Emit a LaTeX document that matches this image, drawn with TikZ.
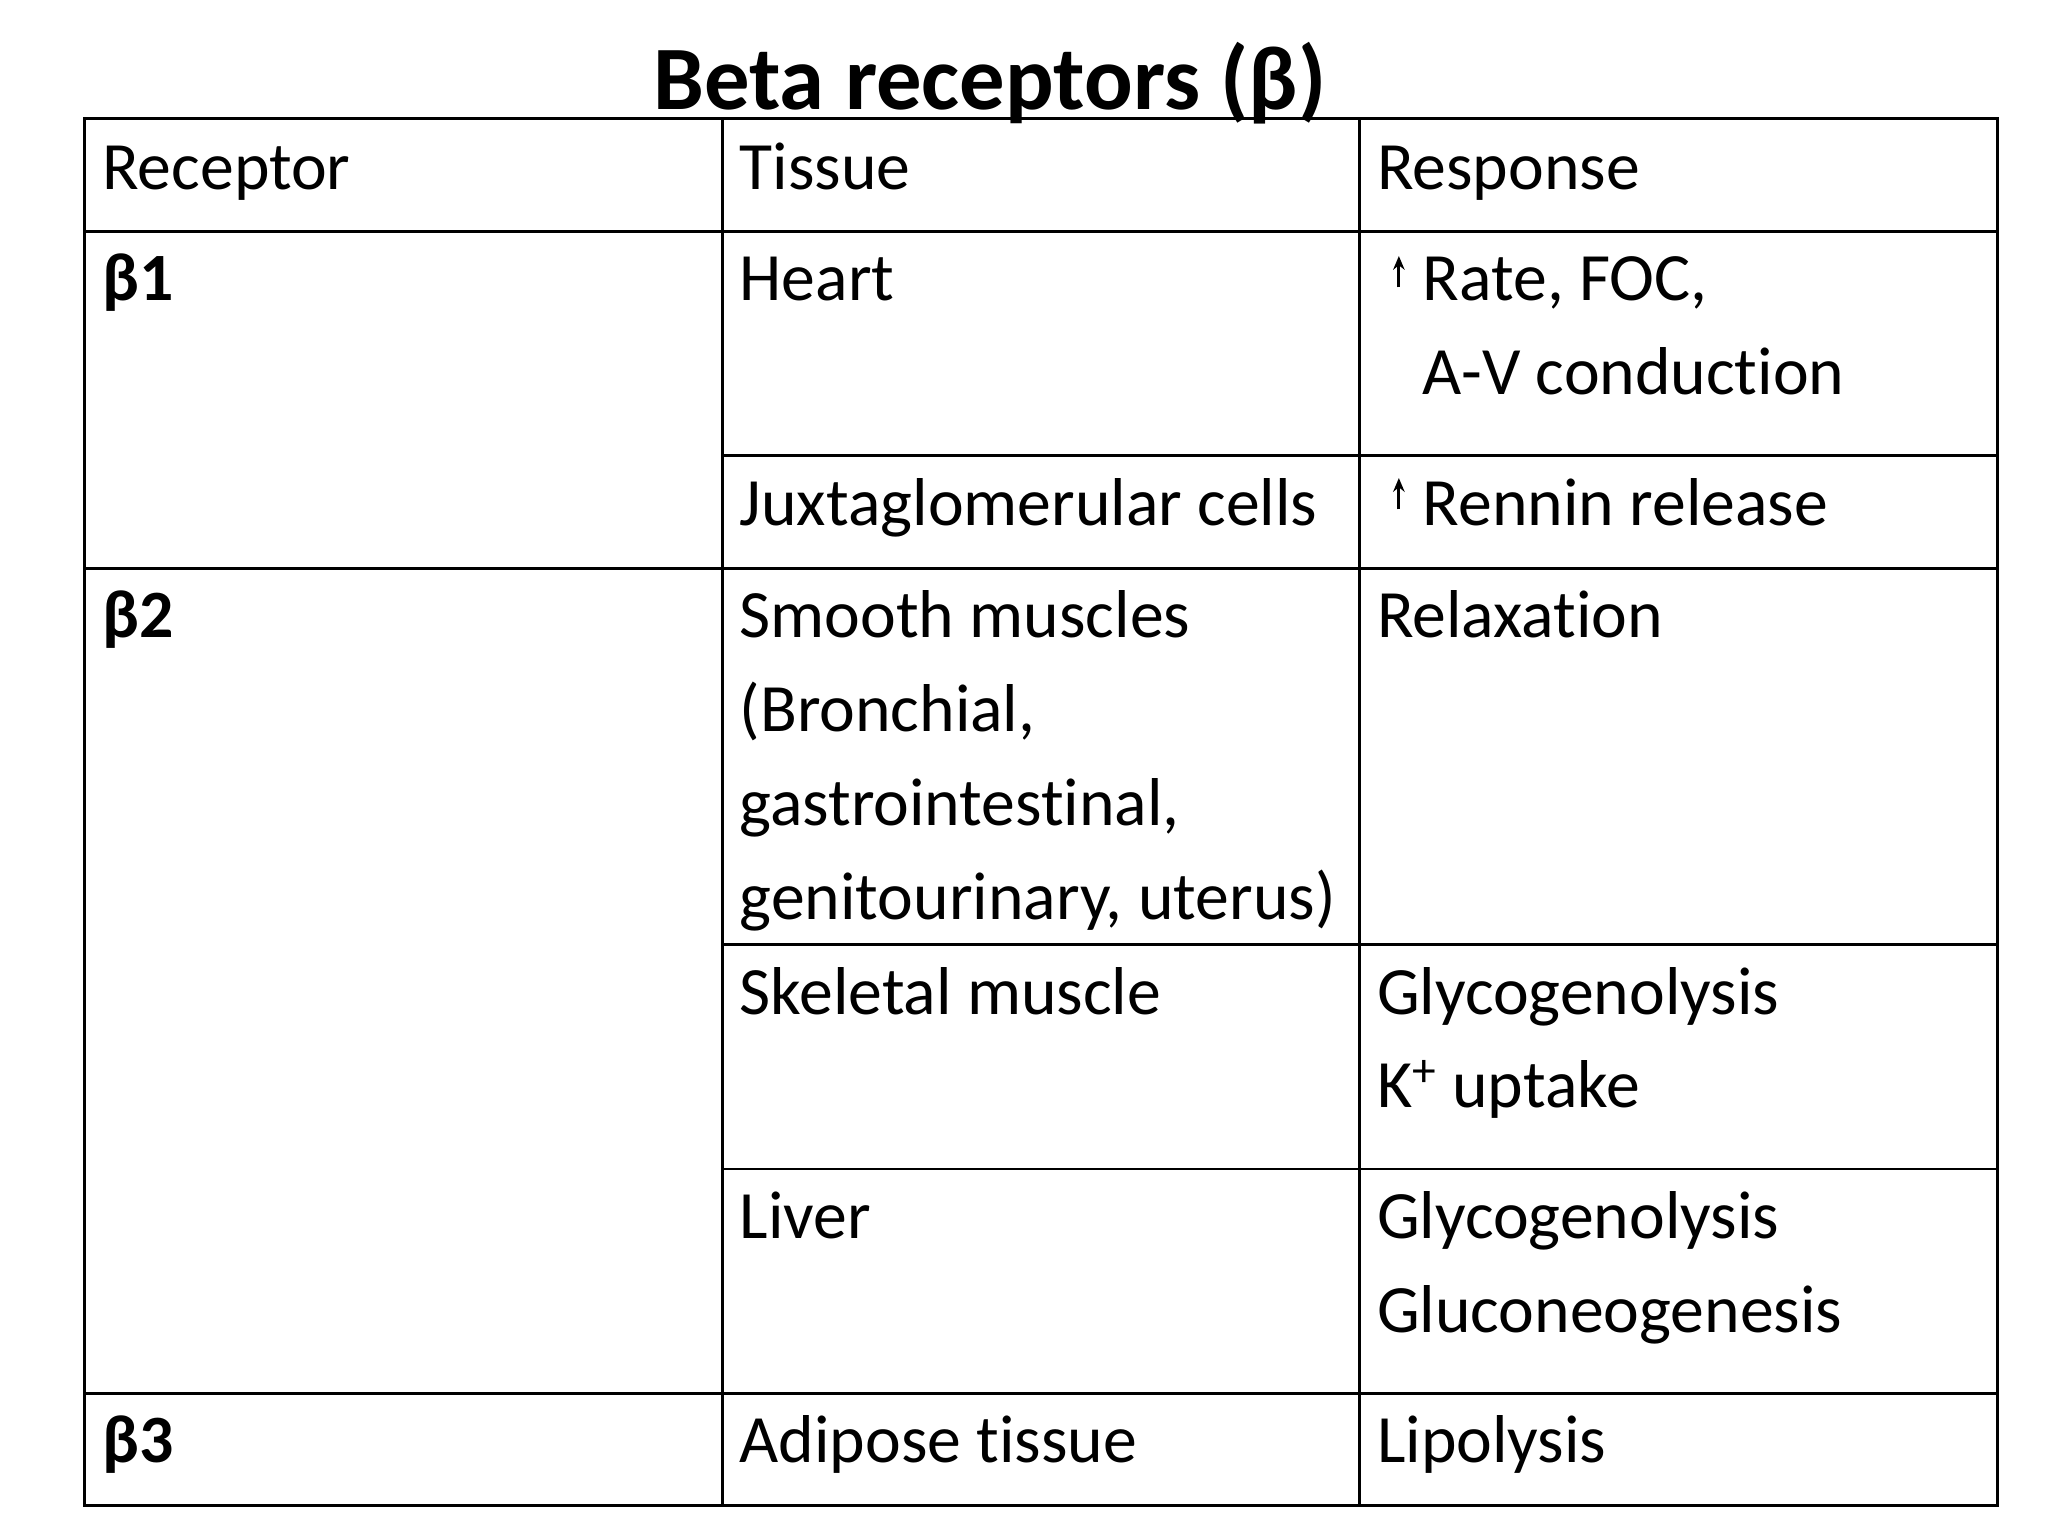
\documentclass[tikz,border=0pt]{standalone}
\usepackage{fontspec}
\setmainfont{Carlito}[Ligatures={NoCommon}]
\usetikzlibrary{arrows.meta}
\begin{document}
\begin{tikzpicture}[x=0.02cm,y=-0.02cm,
  cell/.style={anchor=base west,inner sep=0pt,font=\fontsize{29.5}{34}\selectfont},
  bcell/.style={cell,font=\fontsize{29.5}{34}\selectfont\bfseries},
  grid/.style={line width=1.3pt},
  upar/.style={-{Stealth[length=6pt,width=5pt]},line width=1.3pt}]
\useasboundingbox (0,0) rectangle (1568,1176);
\node[anchor=base,inner sep=0pt,font=\fontsize{39.5}{44}\selectfont\bfseries] (title) at (758,84) {Beta receptors (β)};
% grid
\draw[grid] (65,91) rectangle (1529,1153);
\draw[grid] (553,91) -- (553,1153) (1041,91) -- (1041,1153);
\draw[grid] (65,177) -- (1529,177) (553,349) -- (1529,349) (65,435) -- (1529,435)
  (553,723) -- (1529,723) (553,895) -- (1529,895) (65,1067) -- (1529,1067);
% header
\node[cell] (h1) at (78,145) {Receptor};
\node[cell] (h2) at (566,145) {Tissue};
\node[cell] (h3) at (1054,145) {Response};
% beta1
\node[bcell] (b1) at (78,230) {β1};
\node[cell] (t1) at (566,230) {Heart};
\draw[upar] (1071,220) -- (1071,196);
\node[cell] (r1) at (1089,230) {Rate, FOC,};
\node[cell] (r1b) at (1089,302) {A-V conduction};
\node[cell] (t2) at (566,402) {Juxtaglomerular cells};
\draw[upar] (1071,390) -- (1071,366);
\node[cell] (r2) at (1089,402) {Rennin release};
% beta2
\node[bcell] (b2) at (78,488) {β2};
\node[cell] (t3a) at (566,488) {Smooth muscles};
\node[cell] (t3b) at (566,560) {(Bronchial,};
\node[cell] (t3c) at (566,632) {gastrointestinal,};
\node[cell] (t3d) at (566,704) {genitourinary, uterus)};
\node[cell] (r3) at (1054,488) {Relaxation};
\node[cell] (t4) at (566,777) {Skeletal muscle};
\node[cell] (r4a) at (1054,777) {Glycogenolysis};
\node[cell] (r4b) at (1054,848) {K\textsuperscript{+} uptake};
\node[cell] (t5) at (566,948) {Liver};
\node[cell] (r5a) at (1054,948) {Glycogenolysis};
\node[cell] (r5b) at (1054,1020) {Gluconeogenesis};
% beta3
\node[bcell] (b3) at (78,1120) {β3};
\node[cell] (t6) at (566,1120) {Adipose tissue};
\node[cell] (r6) at (1054,1120) {Lipolysis};
\end{tikzpicture}
\end{document}
